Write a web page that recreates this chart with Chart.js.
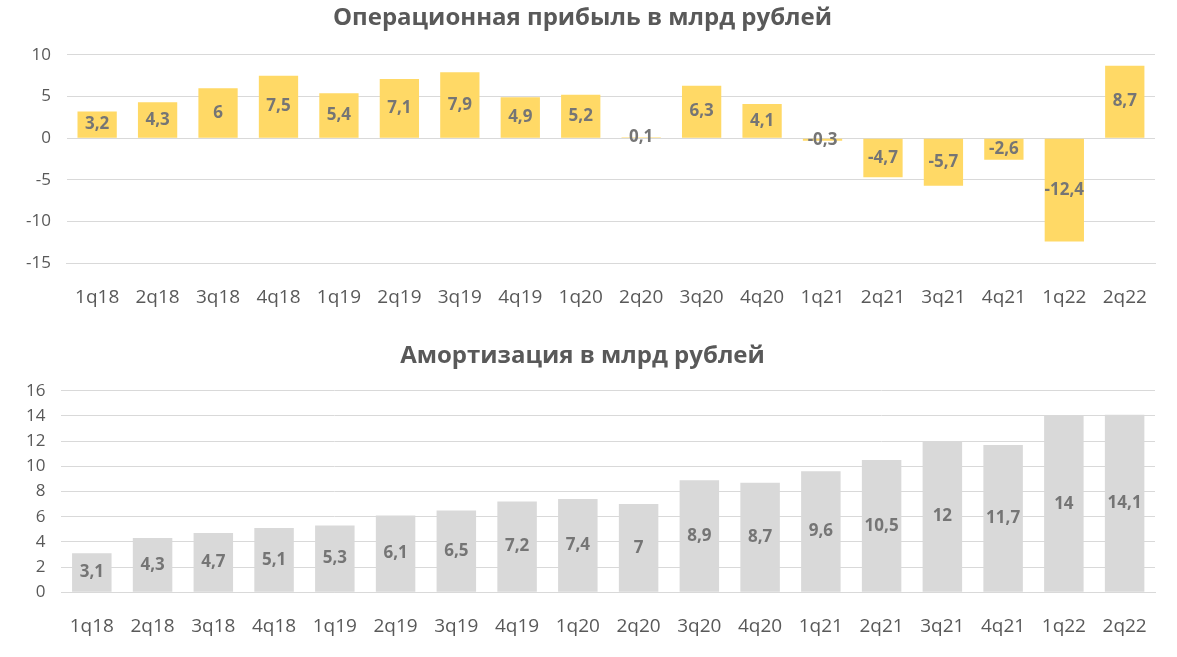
<!DOCTYPE html>
<html><head><meta charset="utf-8">
<script src="https://cdn.jsdelivr.net/npm/chart.js@4"></script>
<style>
body{margin:0;background:#fff;width:1177px;height:657px;overflow:hidden;font-family:"Open Sans",sans-serif}
.box{position:absolute;left:0;width:1177px}
</style></head><body>
<div class="box" style="top:0;height:328px"><canvas id="c1"></canvas></div>
<div class="box" style="top:328px;height:329px"><canvas id="c2"></canvas></div>
<script>
const categories=["1q18","2q18","3q18","4q18","1q19","2q19","3q19","4q19","1q20","2q20","3q20","4q20","1q21","2q21","3q21","4q21","1q22","2q22"];
const operatingProfit=[3.2,4.3,6,7.5,5.4,7.1,7.9,4.9,5.2,0.1,6.3,4.1,-0.3,-4.7,-5.7,-2.6,-12.4,8.7];
const amortization=[3.1,4.3,4.7,5.1,5.3,6.1,6.5,7.2,7.4,7,8.9,8.7,9.6,10.5,12,11.7,14,14.1];
const title1="Операционная прибыль в млрд рублей";
const title2="Амортизация в млрд рублей";

const labelPlugin={id:'lbl',afterDatasetsDraw(chart){
  const ctx=chart.ctx;ctx.save();
  ctx.font='bold 17px "Open Sans"';ctx.fillStyle='#757575';ctx.textAlign='center';ctx.textBaseline='middle';
  chart.getDatasetMeta(0).data.forEach((el,i)=>{
    const v=chart.data.datasets[0].data[i];
    ctx.fillText(String(v).replace('.',','),el.x,(el.y+el.base)/2);
  });ctx.restore();}};

function make(id,data,color,title,min,max,step,topPad,titleBottom){
  new Chart(document.getElementById(id),{type:'bar',
    data:{labels:categories,datasets:[{data:data,backgroundColor:color,categoryPercentage:1,barPercentage:0.65}]},
    options:{responsive:true,maintainAspectRatio:false,animation:false,
      layout:{padding:{left:10,right:22,top:topPad,bottom:4}},
      plugins:{legend:{display:false},tooltip:{enabled:false},
        title:{display:true,text:title,color:'#595959',font:{size:24,weight:'bold',family:'"Open Sans"'},padding:{top:2,bottom:titleBottom}}},
      scales:{
        x:{grid:{display:false},border:{color:'#d9d9d9'},ticks:{color:'#595959',font:{size:19,family:'"Open Sans"'},padding:15}},
        y:{min:min,max:max,ticks:{stepSize:step,color:'#595959',font:{size:17,family:'"Open Sans"'},padding:16},
           grid:{color:'#d9d9d9',drawTicks:false},border:{display:false}}}}
    ,plugins:[labelPlugin]});
}
make('c1',operatingProfit,'#FFD966',title1,-15,10,5,2,22);
make('c2',amortization,'#D9D9D9',title2,0,16,2,12,20);
</script></body></html>
